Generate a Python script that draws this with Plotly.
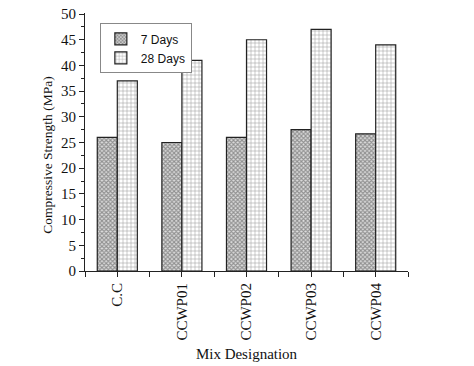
import plotly.graph_objects as go

categories = ["C.C", "CCWP01", "CCWP02", "CCWP03", "CCWP04"]
days7 = [26, 25, 26, 27.5, 26.7]
days28 = [37, 41, 45, 47, 44]
series_names = ["7 Days", "28 Days"]

xpos = list(range(len(categories)))

fig = go.Figure()
fig.add_trace(go.Bar(
    x=xpos, y=days7, name=series_names[0],
    marker=dict(color="white", line=dict(color="#222222", width=1.2),
                pattern=dict(shape="x", size=3, solidity=0.6, fgcolor="#444444", bgcolor="#dddddd")),
))
fig.add_trace(go.Bar(
    x=xpos, y=days28, name=series_names[1],
    marker=dict(color="white", line=dict(color="#222222", width=1.2),
                pattern=dict(shape="+", size=4, solidity=0.22, fgcolor="#222222", bgcolor="white")),
))

serif = "Liberation Serif, Times New Roman, serif"
fig.update_layout(
    width=474, height=366,
    margin=dict(l=85, r=66, t=13, b=95),
    paper_bgcolor="white", plot_bgcolor="white",
    barmode="group", bargap=0.38, bargroupgap=0,
    font=dict(family=serif, size=14, color="#111111"),
    legend=dict(x=0.046, y=0.96, xanchor="left", yanchor="top",
                bordercolor="#888888", borderwidth=1, bgcolor="white",
                font=dict(family="Liberation Sans, Arial, sans-serif", size=12, color="#111111"),
                tracegroupgap=0),
    xaxis=dict(
        range=[-0.5, 4.5], tickmode="array", tickvals=xpos, ticktext=categories,
        tickangle=-90, ticks="outside", ticklen=5, tickcolor="#222222", automargin=False,
        showline=True, linecolor="#222222", linewidth=1.2, showgrid=False, zeroline=False,
        minor=dict(tick0=-0.5, dtick=1, ticks="outside", ticklen=5, tickcolor="#222222"),
        title=dict(text="Mix Designation", font=dict(family=serif, size=15), standoff=8),
        tickfont=dict(family=serif, size=15),
    ),
    yaxis=dict(
        range=[0, 50.2], tickmode="linear", tick0=0, dtick=5, automargin=False,
        ticks="outside", ticklen=5, tickcolor="#222222", ticklabeloverflow="allow",
        showline=True, linecolor="#222222", linewidth=1.2, showgrid=False, zeroline=False,
        minor=dict(dtick=2.5, ticks="outside", ticklen=3, tickcolor="#222222"),
        tickfont=dict(family=serif, size=15),
    ),
    annotations=[dict(
        text="Compressive Strength (MPa)", textangle=-90,
        xref="paper", yref="paper", x=-0.115, y=0.45,
        xanchor="center", yanchor="middle", showarrow=False,
        font=dict(family=serif, size=13.5, color="#111111"),
    )],
)

fig.write_html("out.html", config={"displayModeBar": False},
               post_script="document.body.style.margin='0px';")
